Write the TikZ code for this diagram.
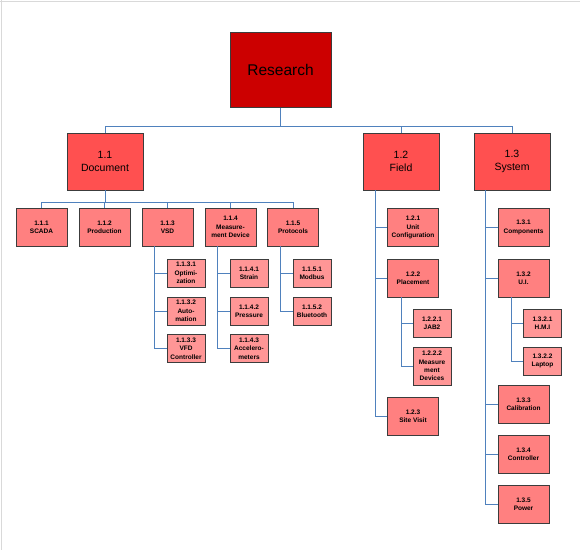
\documentclass[tikz,border=0pt]{standalone}
\usepackage{fontspec}
\setmainfont{Liberation Sans}
\definecolor{rootred}{RGB}{204,0,0}
\definecolor{onered}{RGB}{255,80,80}
\definecolor{twored}{RGB}{255,128,128}
\definecolor{threered}{RGB}{255,150,150}
\definecolor{linkblue}{RGB}{79,129,189}
\definecolor{edge}{RGB}{60,60,60}
\begin{document}
\begin{tikzpicture}[x=1pt,y=-1pt,
  box/.style={draw=edge,line width=0.9pt,align=center,inner sep=1pt},
  root/.style={box,fill=rootred,minimum width=101pt,minimum height=75pt,font=\fontsize{15.5}{18}\selectfont},
  lvlone/.style={box,fill=onered,minimum width=76pt,minimum height=57pt,font=\fontsize{10.5}{13}\selectfont},
  lvltwo/.style={box,fill=twored,minimum width=51pt,minimum height=38pt,font=\bfseries\fontsize{6.5}{8.3}\selectfont},
  lvlthree/.style={box,fill=threered,minimum width=38pt,minimum height=28pt,font=\bfseries\fontsize{6.5}{8.3}\selectfont},
  link/.style={draw=linkblue,line width=0.9pt}]
  \useasboundingbox (0,0) rectangle (580,550);
  \draw[black!15] (0,1) -- (580,1);
  \draw[black!15] (1,0) -- (1,550);

  % top
  \node[root] (res) at (280.5,70) {Research};
  \node[lvlone] (doc) at (105,161.5) {1.1\\Document};
  \node[lvlone] (fld) at (401,161.5) {1.2\\Field};
  \node[lvlone] (sys) at (512,161.5) {1.3\\System};
  \foreach \c in {doc,fld,sys}
    \draw[link] (res.south) -- ++(0,18.5) -| (\c.north);

  % 1.1 Document
  \node[lvltwo] (scada) at (41.5,227) {1.1.1\\SCADA};
  \node[lvltwo] (prod) at (104.5,227) {1.1.2\\Production};
  \node[lvltwo] (vsd) at (167.5,227) {1.1.3\\VSD};
  \node[lvltwo] (meas) at (230.5,227) {1.1.4\\Measure-\\ment Device};
  \node[lvltwo] (prot) at (293,227) {1.1.5\\Protocols};
  \foreach \c in {scada,prod,vsd,meas,prot}
    \draw[link] (doc.south) -- ++(0,12) -| (\c.north);

  \node[lvlthree] (opt) at (186,273) {1.1.3.1\\Optimi-\\zation};
  \node[lvlthree] (auto) at (186,311) {1.1.3.2\\Auto-\\mation};
  \node[lvlthree] (vfd) at (186,348.5) {1.1.3.3\\VFD\\Controller};
  \foreach \c in {opt,auto,vfd}
    \draw[link] ([xshift=13pt]vsd.south west) |- (\c.west);

  \node[lvlthree] (strain) at (249,273) {1.1.4.1\\Strain};
  \node[lvlthree] (press) at (249,311) {1.1.4.2\\Pressure};
  \node[lvlthree] (accel) at (249,348.5) {1.1.4.3\\Accelero-\\meters};
  \foreach \c in {strain,press,accel}
    \draw[link] ([xshift=13pt]meas.south west) |- (\c.west);

  \node[lvlthree] (modbus) at (312,273) {1.1.5.1\\Modbus};
  \node[lvlthree] (bluet) at (312,311) {1.1.5.2\\Bluetooth};
  \foreach \c in {modbus,bluet}
    \draw[link] ([xshift=13pt]prot.south west) |- (\c.west);

  % 1.2 Field
  \node[lvltwo] (unit) at (413,227.5) {1.2.1\\Unit\\Configuration};
  \node[lvltwo] (place) at (413,278) {1.2.2\\Placement};
  \node[lvltwo] (visit) at (413,416) {1.2.3\\Site Visit};
  \foreach \c in {unit,place,visit}
    \draw[link] ([xshift=13pt]fld.south west) |- (\c.west);

  \node[lvlthree] (jab) at (432,323.5) {1.2.2.1\\JAB2};
  \node[lvlthree,minimum height=38pt] (mdev) at (432,366) {1.2.2.2\\Measure\\ment\\Devices};
  \foreach \c in {jab,mdev}
    \draw[link] ([xshift=14pt]place.south west) |- (\c.west);

  % 1.3 System
  \node[lvltwo] (comp) at (523.5,227.5) {1.3.1\\Components};
  \node[lvltwo] (ui) at (523.5,278) {1.3.2\\U.I.};
  \node[lvltwo] (calib) at (523.5,404) {1.3.3\\Calibration};
  \node[lvltwo] (ctrl) at (523.5,454) {1.3.4\\Controller};
  \node[lvltwo] (power) at (523.5,504.5) {1.3.5\\Power};
  \foreach \c in {comp,ui,calib,ctrl,power}
    \draw[link] ([xshift=12pt]sys.south west) |- (\c.west);

  \node[lvlthree] (hmi) at (542.5,323) {1.3.2.1\\H.M.I};
  \node[lvlthree] (laptop) at (542.5,361) {1.3.2.2\\Laptop};
  \foreach \c in {hmi,laptop}
    \draw[link] ([xshift=14pt]ui.south west) |- (\c.west);
\end{tikzpicture}
\end{document}
